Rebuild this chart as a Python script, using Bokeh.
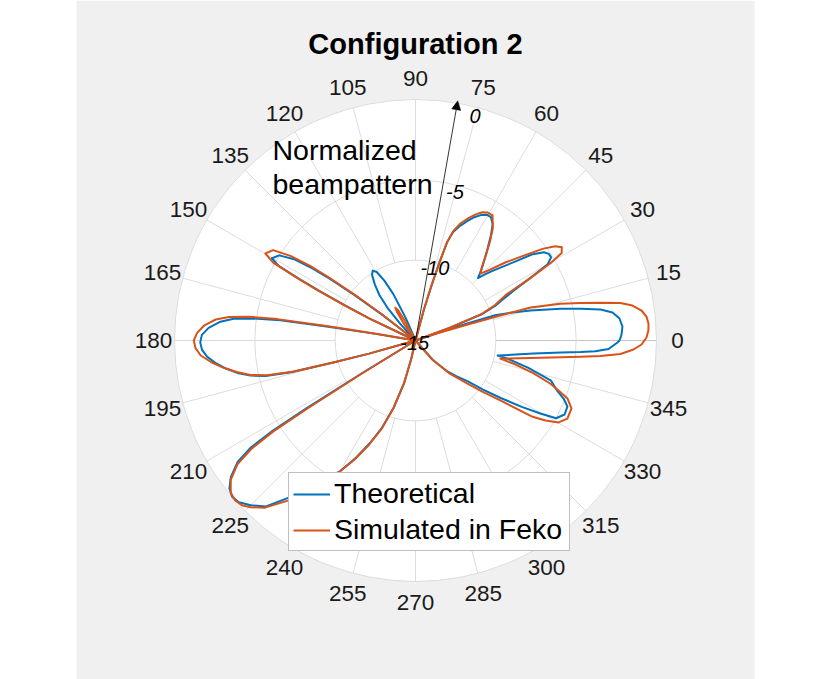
import numpy as np
from bokeh.plotting import figure
from bokeh.models import Range1d, Legend, LegendItem, Arrow, NormalHead
from bokeh.core.properties import value
from bokeh.embed import file_html
from bokeh.resources import INLINE

# ---------------- data ----------------
title_text = "Configuration 2"
r_label_lines = ["Normalized", "beampattern"]
series_names = ["Theoretical", "Simulated in Feko"]
theta_ticks = list(range(0, 360, 15))
r_ticks = [-15, -10, -5, 0]
r_min, r_max = -15, 0
r_axis_angle = 80

theo_deg = [0, 1.67, 3.87, 6.16, 8.09, 9.51, 10.88, 12.33, 14.6, 16.5, 17.6, 18.2, 19.0, 19.6,
            20.4, 21.7, 23.5, 25.2, 27.0, 28.5, 30.0, 31.5, 33.0, 34.5, 36.5, 38.0, 40.0, 42.0, 43.5, 45.0,
            47.0, 49.5, 52.0, 54.5, 56.5, 58.6, 60.5, 62.5, 64.5, 66.6, 69.0, 71.0, 72.2, 73.0, 73.8, 74.8, 75.8,
            95,
            112.0, 113.5, 115.5, 117.5, 119.5, 121.5, 123.5, 126.0, 128.5, 130.5, 132.5, 134.0,
            138,
            141.0, 142.3, 143.3, 144.2, 145.0, 146.2, 148.0, 150.2, 151.4, 152.1, 152.7, 153.5, 154.4, 155.8,
            163,
            169.5, 170.5, 171.0, 171.5, 172.3, 173.2, 174.5, 176.5, 178.5, 180.5, 182.5, 184.5, 186.5,
            188.5, 190.5, 192.0, 193.3, 194.3, 195.0, 195.8, 196.5,
            204,
            210.5, 211.4, 211.9, 212.3, 213.0, 214.3, 216.5, 218.5, 220.5, 222.5, 225.0, 228.0, 231.0,
            234.0, 237.0, 240.0, 243.0, 246.0, 249.0, 252.0, 255.0, 257.0, 258.5,
            285,
            308.0, 312.0, 316.0, 319.0, 322.0, 324.0, 326.0, 328.0, 329.7, 331.05, 333.6, 336.5, 338.6,
            340.3, 343.5, 346.4, 348.9, 349.6, 352.0, 353.7, 355.3, 356.0, 356.57, 357.48, 359.43, 360.0]
theo_db = [-2.3, -2.17, -2.09, -2.23, -2.61, -3.32, -4.54, -5.76, -7.6, -9.0, -9.8, -11.6, -13.5, -16,
           -12.7, -10.5, -9.6, -9.0, -8.1, -6.9, -5.5, -5.1, -5.1, -5.3, -6.0, -6.9, -7.8, -8.5, -9.0, -9.5,
           -9.0, -8.4, -7.7, -6.9, -6.3, -6.0, -6.0, -6.2, -6.5, -6.9, -7.4, -7.9, -8.6, -10.0, -11.5, -13.0, -16,
           -30,
           -16, -13.5, -11.8, -10.8, -10.1, -9.9, -10.1, -10.7, -11.4, -12.3, -13.6, -16,
           -30,
           -16, -12.5, -10.3, -8.5, -7.2, -5.9, -5.0, -4.7, -5.3, -6.8, -8.2, -10.0, -11.8, -16,
           -30,
           -16, -12.5, -9.5, -6.5, -4.8, -3.6, -2.8, -2.1, -1.7, -1.6, -1.7, -2.0, -2.5,
           -3.1, -3.8, -4.5, -5.4, -7.0, -9.7, -12.0, -16,
           -30,
           -16, -11.0, -7.0, -4.5, -2.8, -1.6, -0.7, -0.2, 0.0, -0.1, -0.5, -1.1, -2.4,
           -3.7, -4.8, -5.6, -6.8, -8.0, -9.2, -10.6, -12.2, -13.8, -16,
           -30,
           -16, -13.3, -12.2, -11.6, -10.9, -9.8, -8.6, -7.2, -6.0, -5.0, -4.64, -4.69, -5.1,
           -5.6, -6.2, -7.8, -9.2, -9.8, -8.7, -7.6, -5.9, -4.7, -3.78, -2.97, -2.43, -2.3]

feko_deg = [0.74, 2.46, 4.17, 5.93, 7.56, 9.16, 10.37, 11.55, 12.8, 14.2, 16.0, 16.4, 17.0, 18.0, 18.8,
            20.3, 21.7, 24.0, 26.8, 28.5, 29.8, 30.9, 32.5, 34.0, 35.7, 38.0, 41.0, 43.5, 45.9,
            48.0, 50.5, 53.0, 55.5, 58.4, 60.5, 62.5, 64.5, 66.6, 69.0, 71.0, 72.2, 73.0, 73.8, 74.8, 75.8,
            100,
            116.5, 118.5, 120.0, 121.5, 123.0, 125.0, 126.5,
            135,
            140.7, 142.0, 143.0, 143.9, 144.7, 145.9, 147.6, 149.9, 151.3, 152.1, 152.8, 153.6, 154.6, 156.0,
            163,
            169.2, 170.2, 170.7, 171.2, 171.9, 172.8, 174.0, 176.0, 178.0, 180.0, 182.0, 184.0, 186.0,
            188.0, 190.0, 191.8, 193.2, 194.3, 195.0, 195.8, 196.6,
            204,
            210.8, 211.7, 212.2, 212.6, 213.4, 214.8, 217.0, 219.5, 221.5, 223.5, 225.3, 228.0, 231.6,
            234.5, 237.0, 239.6, 243.0, 246.0, 249.0, 252.0, 255.0, 257.0, 258.5,
            285,
            306.0, 311.0, 316.0, 320.4, 322.5, 324.8, 326.9, 328.4, 330.2, 332.8, 336.45, 339.1, 340.7,
            342.3, 344.5, 346.5, 347.9, 351.3, 353.4, 354.39, 355.21, 356.23, 357.64, 358.99, 360.74]
feko_db = [-0.62, -0.49, -0.46, -0.55, -0.81, -1.32, -2.03, -3.25, -4.47, -5.7, -7.55, -9.5, -11.6, -13.5, -16,
           -12.8, -10.6, -9.6, -8.7, -6.9, -5.3, -4.4, -4.2, -4.5, -5.2, -6.4, -7.6, -8.6, -9.2,
           -8.8, -8.1, -7.3, -6.5, -5.85, -5.85, -6.0, -6.3, -6.7, -7.2, -7.8, -8.6, -10.0, -11.5, -13.0, -16,
           -30,
           -16, -13.6, -12.8, -12.6, -12.9, -13.8, -16,
           -30,
           -16, -12.5, -10.3, -8.4, -7.0, -5.6, -4.5, -4.2, -4.9, -6.6, -8.1, -10.0, -11.8, -16,
           -30,
           -16, -12.5, -9.5, -6.3, -4.5, -3.3, -2.5, -1.8, -1.4, -1.2, -1.3, -1.6, -2.2,
           -2.9, -3.7, -4.5, -5.5, -7.2, -9.7, -12.0, -16,
           -30,
           -16, -11.0, -7.0, -4.5, -2.8, -1.5, -0.6, -0.1, 0.0, -0.1, -0.4, -1.0, -2.3,
           -3.6, -4.7, -5.4, -6.7, -7.9, -9.1, -10.6, -12.3, -13.9, -16,
           -30,
           -16, -13.5, -12.0, -10.8, -9.8, -8.5, -6.3, -5.5, -4.74, -4.37, -4.41, -4.87, -5.57,
           -6.2, -7.4, -8.6, -9.6, -7.76, -5.9, -4.68, -3.45, -2.22, -1.42, -0.93, -0.62]

# ---------------- geometry ----------------
W, H = 830, 679
CX, CY = 415.0, 340.0          # centre in page pixels
R_PX = 241.0                    # outer radius in page pixels
S = R_PX / (r_max - r_min)      # pixels per data unit
def px_x(X): return (X - CX) / S
def px_y(Y): return (CY - Y) / S

x0, x1 = px_x(0), px_x(W)
y0, y1 = px_y(H), px_y(0)
RO = r_max - r_min
R_IN = r_ticks[1] - r_min       # theta grid starts at first r tick

FONT = "Liberation Sans"
GRID = "#dcdcdc"

p = figure(width=W, height=H, x_range=Range1d(x0, x1), y_range=Range1d(y0, y1),
           x_axis_type=None, y_axis_type=None, output_backend="svg",
           toolbar_location=None, min_border=0, outline_line_color=None,
           background_fill_color="white", border_fill_color="white")
p.grid.visible = False

# grey figure strip and white polar disc
p.quad(left=[px_x(76)], right=[px_x(754)], bottom=[y0], top=[y1],
       fill_color="#f0f0f0", line_color=None)
p.circle(x=[0], y=[0], radius=RO, fill_color="white", line_color=None)

# theta grid spokes
th = np.deg2rad(theta_ticks)
p.segment(x0=R_IN * np.cos(th), y0=R_IN * np.sin(th), x1=RO * np.cos(th), y1=RO * np.sin(th),
          line_color=[("#c4c4c4" if t == 0 else GRID) for t in theta_ticks], line_width=1)
# radial grid circles
rings = [t - r_min for t in r_ticks if t > r_min]
p.circle(x=[0] * len(rings), y=[0] * len(rings), radius=rings,
         fill_color=None, line_color=GRID, line_width=1)

# curves
def to_xy(deg, db):
    r = np.clip(np.array(db, dtype=float) - r_min, 0, None)
    a = np.deg2rad(np.array(deg, dtype=float))
    return r * np.cos(a), r * np.sin(a)

tx, ty = to_xy(theo_deg, theo_db)
fx, fy = to_xy(feko_deg, feko_db)
l1 = p.line(tx, ty, line_color="#0072BD", line_width=2, line_join="round")
l2 = p.line(fx, fy, line_color="#D95319", line_width=2, line_join="round")

# radial axis with arrow
ra = np.deg2rad(r_axis_angle)
p.add_layout(Arrow(end=NormalHead(size=9, fill_color="black", line_color="black", line_width=0.5),
                   x_start=0, y_start=0, x_end=RO * np.cos(ra) * 1.01, y_end=RO * np.sin(ra) * 1.01,
                   line_color="black", line_width=0.8))

# radial tick labels
la = np.deg2rad(75.1)
rl = [(t - r_min) * 0.975 - 3 / S for t in r_ticks]
p.text(x=[r * np.cos(la) for r in rl], y=[r * np.sin(la) for r in rl],
       text=[str(t) for t in r_ticks], text_align="center", text_baseline="middle",
       text_font=value(FONT), text_font_size="20px", text_font_style="italic", text_color="black")

# theta tick labels
RT = 262.0 / S
p.text(x=RT * np.cos(th), y=RT * np.sin(th), text=[str(t) for t in theta_ticks],
       text_align="center", text_baseline="middle", text_font=value(FONT),
       text_font_size="22.5px", text_color="#1a1a1a")

# r-axis label
p.text(x=[px_x(272)] * 2, y=[px_y(149.5), px_y(183.5)], text=r_label_lines,
       text_align="left", text_baseline="middle", text_font=value(FONT),
       text_font_size="28.5px", text_color="black")

# title
p.text(x=[0], y=[px_y(43)], text=[title_text], text_align="center", text_baseline="middle",
       text_font=value(FONT), text_font_size="29px", text_font_style="bold", text_color="black")

# legend
legend = Legend(items=[LegendItem(label=series_names[0], renderers=[l1]),
                       LegendItem(label=series_names[1], renderers=[l2])],
                location=(288, H - 551), margin=0, padding=4, spacing=3,
                glyph_width=37, glyph_height=30, label_standoff=4, label_width=231,
                label_text_font=FONT, label_text_font_size="28.5px", label_text_color="black",
                border_line_color="#7f7f7f", border_line_width=1,
                background_fill_color="white", background_fill_alpha=1.0)
p.add_layout(legend)

open("out.html", "w").write(file_html(p, INLINE))
